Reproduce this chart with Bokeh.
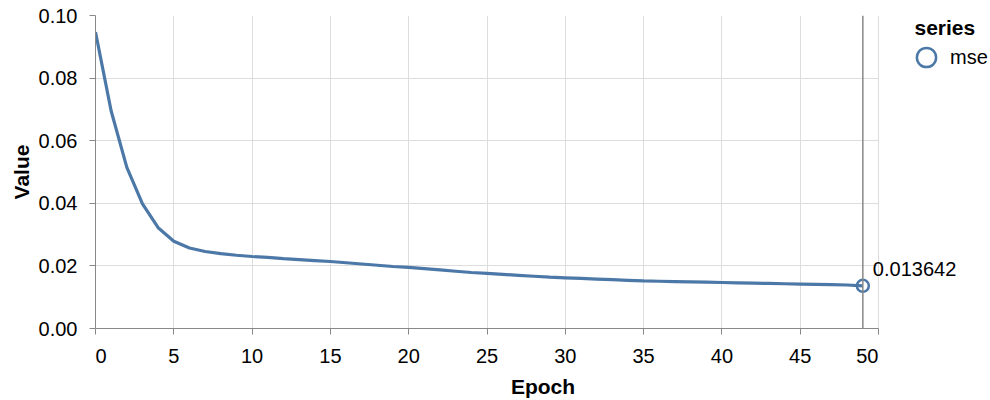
from bokeh.plotting import figure
from bokeh.models import Span, Legend, LegendItem, NumeralTickFormatter, FixedTicker, Label
from bokeh.embed import file_html
from bokeh.resources import INLINE

# training loss per epoch
epochs = list(range(50))
mse = [0.0947, 0.0695, 0.0515, 0.0398, 0.0322, 0.0279, 0.0257, 0.0246, 0.0239, 0.0234,
       0.0230, 0.0227, 0.0223, 0.0220, 0.0217, 0.0214, 0.0210, 0.0206, 0.0202, 0.0198,
       0.0195, 0.0191, 0.0187, 0.0183, 0.0179, 0.0176, 0.0173, 0.0170, 0.0167, 0.0164,
       0.0162, 0.0160, 0.0158, 0.0156, 0.0154, 0.0152, 0.0151, 0.0150, 0.0149, 0.0148,
       0.0147, 0.0146, 0.0145, 0.0144, 0.0143, 0.0142, 0.0141, 0.0140, 0.0139, 0.013642]
x_ticks = [0, 5, 10, 15, 20, 25, 30, 35, 40, 45, 50]
y_ticks = [0.0, 0.02, 0.04, 0.06, 0.08, 0.10]
last_label = "0.013642"

FONT = "Liberation Sans"
BLUE = "#4c78a8"
GRAY = "#888888"

# the frame runs on to the right edge so the legend and value label are not clipped;
# axis and grid stop at epoch 50
LEFT, PLOT_W, EXTRA_W, PLOT_H = 95, 783, 112, 313
x_end = x_ticks[-1] * (PLOT_W + EXTRA_W) / PLOT_W

p = figure(frame_width=PLOT_W + EXTRA_W, frame_height=PLOT_H, x_range=(0, x_end), y_range=(0, 0.10),
           output_backend="svg", toolbar_location=None,
           min_border_left=LEFT, min_border_right=0, min_border_top=15, min_border_bottom=72)
p.outline_line_color = None

p.line(epochs, mse, line_color=BLUE, line_width=3.2)

rule = Span(location=epochs[-1], dimension="height", line_color=GRAY, line_width=1.5)
p.add_layout(rule)

pt = p.scatter([epochs[-1]], [mse[-1]], size=12, fill_color="white", fill_alpha=0.0,
               line_color=BLUE, line_width=2.5)
p.add_layout(Label(x=epochs[-1], y=mse[-1], text=last_label, x_offset=10, y_offset=17,
                   text_font=FONT, text_font_size="20px", text_baseline="middle",
                   text_color="black"))

for ax in (p.xaxis, p.yaxis):
    ax.axis_line_color = GRAY
    ax.major_tick_line_color = GRAY
    ax.minor_tick_line_color = None
    ax.major_tick_in = 0
    ax.major_tick_out = 6
    ax.major_label_text_font = FONT
    ax.major_label_text_font_size = "20px"
    ax.major_label_text_color = "black"
    ax.axis_label_text_font = FONT
    ax.axis_label_text_font_size = "21px"
    ax.axis_label_text_font_style = "bold"
    ax.axis_label_text_color = "black"

p.xaxis.ticker = FixedTicker(ticks=x_ticks)
p.xaxis.bounds = (x_ticks[0], x_ticks[-1])
p.yaxis.ticker = FixedTicker(ticks=y_ticks)
p.yaxis.formatter = NumeralTickFormatter(format="0.00")
p.xaxis.axis_label = "Epoch"
p.yaxis.axis_label = "Value"
p.xaxis.major_label_standoff = 10
p.yaxis.major_label_standoff = 12
p.xaxis.axis_label_standoff = 5
p.yaxis.axis_label_standoff = 3

# flush end labels on the x axis (padded with no-break spaces)
NB = "\u00a0"
p.xaxis.major_label_overrides = {x_ticks[0]: NB * 2 + str(x_ticks[0]),
                                 x_ticks[-1]: str(x_ticks[-1]) + NB * 4}

p.xgrid.ticker = FixedTicker(ticks=x_ticks)
p.ygrid.ticker = FixedTicker(ticks=y_ticks)
p.ygrid.cross_bounds = (x_ticks[0], x_ticks[-1])
p.grid.grid_line_color = "#dddddd"
p.grid.grid_line_width = 1

# legend: title as a label, one hollow-circle item below it
p.add_layout(Label(x=819, y=PLOT_H - 12, x_units="screen", y_units="screen", text="series",
                   text_font=FONT, text_font_size="21px", text_font_style="bold",
                   text_baseline="middle", text_color="black"))
legend = Legend(items=[LegendItem(label="mse", renderers=[pt])],
                location=(807, PLOT_H - 66),
                label_text_font=FONT, label_text_font_size="20px", label_text_color="black",
                glyph_width=48, glyph_height=48, label_standoff=0,
                padding=0, margin=0, border_line_color=None,
                background_fill_alpha=0)
p.add_layout(legend)

open("out.html", "w").write(file_html(p, INLINE))
